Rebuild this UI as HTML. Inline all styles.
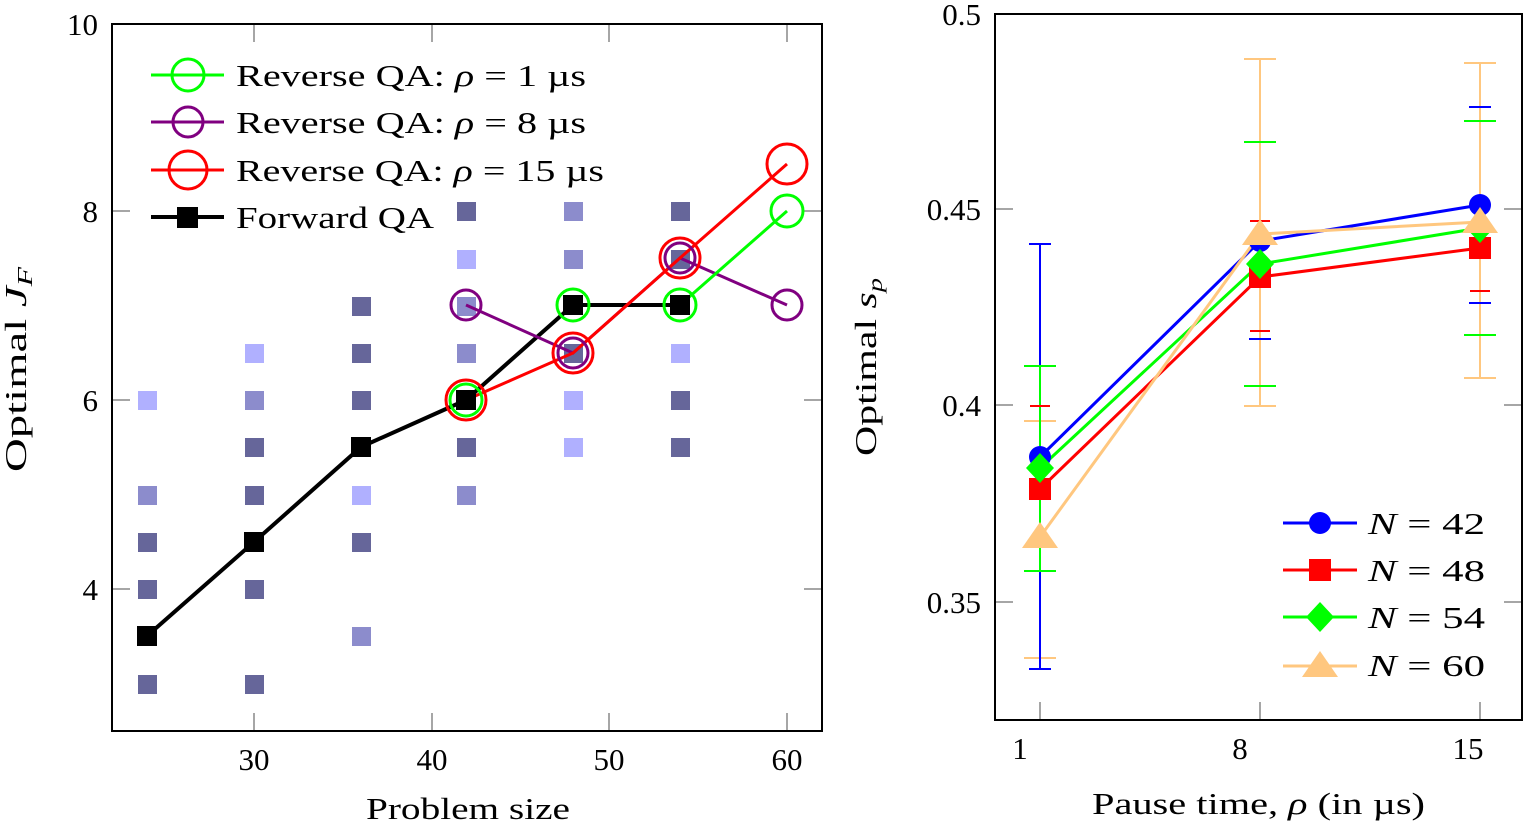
<!DOCTYPE html>
<html><head><meta charset="utf-8"><style>
html,body{margin:0;padding:0;background:#fff;}
svg{display:block;}
text{font-family:"Liberation Serif",serif;font-size:31px;fill:#000;}
.it{font-style:italic;}
</style></head><body>
<svg width="1525" height="823" viewBox="0 0 1525 823" xmlns="http://www.w3.org/2000/svg">
<g id="sq">
<rect x="138" y="391" width="19" height="19" fill="#b0b0ff"/>
<rect x="138" y="486" width="19" height="19" fill="#8c8ccc"/>
<rect x="138" y="533" width="19" height="19" fill="#66669a"/>
<rect x="138" y="580" width="19" height="19" fill="#66669a"/>
<rect x="138" y="675" width="19" height="19" fill="#66669a"/>
<rect x="245" y="344" width="19" height="19" fill="#b0b0ff"/>
<rect x="245" y="391" width="19" height="19" fill="#8c8ccc"/>
<rect x="245" y="438" width="19" height="19" fill="#66669a"/>
<rect x="245" y="486" width="19" height="19" fill="#66669a"/>
<rect x="245" y="580" width="19" height="19" fill="#66669a"/>
<rect x="245" y="675" width="19" height="19" fill="#66669a"/>
<rect x="352" y="297" width="19" height="19" fill="#66669a"/>
<rect x="352" y="344" width="19" height="19" fill="#66669a"/>
<rect x="352" y="391" width="19" height="19" fill="#66669a"/>
<rect x="352" y="486" width="19" height="19" fill="#b0b0ff"/>
<rect x="352" y="533" width="19" height="19" fill="#66669a"/>
<rect x="352" y="627" width="19" height="19" fill="#8c8ccc"/>
<rect x="457" y="202" width="19" height="19" fill="#66669a"/>
<rect x="457" y="250" width="19" height="19" fill="#b0b0ff"/>
<rect x="457" y="297" width="19" height="19" fill="#8c8ccc"/>
<rect x="457" y="344" width="19" height="19" fill="#8c8ccc"/>
<rect x="457" y="438" width="19" height="19" fill="#66669a"/>
<rect x="457" y="486" width="19" height="19" fill="#8c8ccc"/>
<rect x="564" y="202" width="19" height="19" fill="#8c8ccc"/>
<rect x="564" y="250" width="19" height="19" fill="#8c8ccc"/>
<rect x="564" y="344" width="19" height="19" fill="#66669a"/>
<rect x="564" y="391" width="19" height="19" fill="#b0b0ff"/>
<rect x="564" y="438" width="19" height="19" fill="#b0b0ff"/>
<rect x="671" y="202" width="19" height="19" fill="#66669a"/>
<rect x="671" y="250" width="19" height="19" fill="#66669a"/>
<rect x="671" y="344" width="19" height="19" fill="#b0b0ff"/>
<rect x="671" y="391" width="19" height="19" fill="#66669a"/>
<rect x="671" y="438" width="19" height="19" fill="#66669a"/>
</g>
<g stroke="#888" stroke-width="1.5">
<line x1="254" y1="24" x2="254" y2="42"/><line x1="432" y1="24" x2="432" y2="42"/><line x1="609" y1="24" x2="609" y2="42"/><line x1="787" y1="24" x2="787" y2="42"/>
<line x1="254" y1="731" x2="254" y2="713"/><line x1="432" y1="731" x2="432" y2="713"/><line x1="609" y1="731" x2="609" y2="713"/><line x1="787" y1="731" x2="787" y2="713"/>
<line x1="112" y1="211" x2="130" y2="211"/><line x1="112" y1="400" x2="130" y2="400"/><line x1="112" y1="589" x2="130" y2="589"/>
<line x1="822" y1="211" x2="804" y2="211"/><line x1="822" y1="400" x2="804" y2="400"/><line x1="822" y1="589" x2="804" y2="589"/>
</g>
<rect x="112" y="24" width="710" height="707" fill="none" stroke="#000" stroke-width="2"/>
<polyline points="147,636 254,542 361,447 466,400 573,305 680,305" fill="none" stroke="#000" stroke-width="4"/>
<polyline points="466,305 573,353 680,258 787,305" fill="none" stroke="#800080" stroke-width="3"/>
<polyline points="466,400 573,353 680,258 787,164" fill="none" stroke="#ff0000" stroke-width="3"/>
<polyline points="680,305 787,211" fill="none" stroke="#00ff00" stroke-width="3"/>
<g fill="none" stroke-width="3">
<circle cx="466" cy="400" r="20" stroke="#ff0000"/>
<circle cx="573" cy="353" r="20" stroke="#ff0000"/>
<circle cx="680" cy="258" r="20" stroke="#ff0000"/>
<circle cx="787" cy="164" r="20" stroke="#ff0000"/>
<circle cx="466" cy="305" r="15" stroke="#800080"/>
<circle cx="573" cy="353" r="15" stroke="#800080"/>
<circle cx="680" cy="258" r="15" stroke="#800080"/>
<circle cx="787" cy="305" r="15" stroke="#800080"/>
<circle cx="466" cy="400" r="16" stroke="#00ff00"/>
<circle cx="573" cy="305" r="16" stroke="#00ff00"/>
<circle cx="680" cy="305" r="16" stroke="#00ff00"/>
<circle cx="787" cy="211" r="16" stroke="#00ff00"/>
</g>
<g fill="#000">
<rect x="137" y="626" width="20" height="20"/><rect x="244" y="532" width="20" height="20"/><rect x="351" y="437" width="20" height="20"/>
<rect x="456" y="390" width="20" height="20"/><rect x="563" y="295" width="20" height="20"/><rect x="670" y="295" width="20" height="20"/>
</g>
<line x1="151" y1="75" x2="224" y2="75" stroke="#00ff00" stroke-width="3"/><circle cx="188" cy="75" r="16" fill="none" stroke="#00ff00" stroke-width="3"/>
<line x1="151" y1="122" x2="224" y2="122" stroke="#800080" stroke-width="3"/><circle cx="188" cy="122" r="15" fill="none" stroke="#800080" stroke-width="3"/>
<line x1="151" y1="170" x2="224" y2="170" stroke="#ff0000" stroke-width="3"/><circle cx="188" cy="170" r="19" fill="none" stroke="#ff0000" stroke-width="3"/>
<line x1="151" y1="217" x2="224" y2="217" stroke="#000" stroke-width="4"/><rect x="177" y="207" width="21" height="21" fill="#000"/>
<text x="236" y="86" textLength="350" lengthAdjust="spacingAndGlyphs">Reverse QA: <tspan class="it">ρ</tspan>  =  1 µs</text>
<text x="236" y="133" textLength="350" lengthAdjust="spacingAndGlyphs">Reverse QA: <tspan class="it">ρ</tspan>  =  8 µs</text>
<text x="236" y="181" textLength="368" lengthAdjust="spacingAndGlyphs">Reverse QA: <tspan class="it">ρ</tspan>  =  15 µs</text>
<text x="236" y="228" textLength="198" lengthAdjust="spacingAndGlyphs">Forward QA</text>
<text x="254" y="770" text-anchor="middle">30</text><text x="432" y="770" text-anchor="middle">40</text><text x="609" y="770" text-anchor="middle">50</text><text x="787" y="770" text-anchor="middle">60</text>
<text x="98" y="35" text-anchor="end">10</text><text x="98" y="222" text-anchor="end">8</text><text x="98" y="411" text-anchor="end">6</text><text x="98" y="600" text-anchor="end">4</text>
<text x="366" y="819" textLength="204" lengthAdjust="spacingAndGlyphs">Problem size</text>
<text transform="translate(26,472) rotate(-90)" textLength="205" lengthAdjust="spacingAndGlyphs">Optimal <tspan class="it">J</tspan><tspan class="it" font-size="21" dy="6">F</tspan></text>

<g stroke="#888" stroke-width="1.5">
<line x1="1040" y1="720" x2="1040" y2="702"/><line x1="1260" y1="720" x2="1260" y2="702"/><line x1="1480" y1="720" x2="1480" y2="702"/>
<line x1="995" y1="209" x2="1013" y2="209"/><line x1="995" y1="405" x2="1013" y2="405"/><line x1="995" y1="602" x2="1013" y2="602"/>
<line x1="1522" y1="209" x2="1504" y2="209"/><line x1="1522" y1="405" x2="1504" y2="405"/><line x1="1522" y1="602" x2="1504" y2="602"/>
</g>
<rect x="995" y="14" width="527" height="706" fill="none" stroke="#000" stroke-width="2"/>
<g stroke-width="2" fill="none">
<g stroke="#ffc77f"><line x1="1040" y1="421" x2="1040" y2="658"/><line x1="1024" y1="421" x2="1056" y2="421"/><line x1="1024" y1="658" x2="1056" y2="658"/>
<line x1="1260" y1="59" x2="1260" y2="406"/><line x1="1244" y1="59" x2="1276" y2="59"/><line x1="1244" y1="406" x2="1276" y2="406"/>
<line x1="1480" y1="63" x2="1480" y2="378"/><line x1="1464" y1="63" x2="1496" y2="63"/><line x1="1464" y1="378" x2="1496" y2="378"/></g>
<g stroke="#0000ff"><line x1="1040" y1="244" x2="1040" y2="669"/><line x1="1029" y1="244" x2="1051" y2="244"/><line x1="1029" y1="669" x2="1051" y2="669"/>
<line x1="1249" y1="339" x2="1271" y2="339"/><line x1="1469" y1="107" x2="1491" y2="107"/><line x1="1469" y1="303" x2="1491" y2="303"/></g>
<g stroke="#00ff00"><line x1="1040" y1="366" x2="1040" y2="571"/><line x1="1024" y1="366" x2="1056" y2="366"/><line x1="1024" y1="571" x2="1056" y2="571"/>
<line x1="1244" y1="142" x2="1276" y2="142"/><line x1="1244" y1="386" x2="1276" y2="386"/><line x1="1464" y1="121" x2="1496" y2="121"/><line x1="1464" y1="335" x2="1496" y2="335"/></g>
<g stroke="#ff0000"><line x1="1030" y1="406" x2="1050" y2="406"/><line x1="1250" y1="221" x2="1270" y2="221"/><line x1="1250" y1="331" x2="1270" y2="331"/><line x1="1470" y1="291" x2="1490" y2="291"/></g>
</g>
<g fill="none" stroke-width="3">
<polyline points="1040,457 1260,241 1480,205" stroke="#0000ff"/>
<polyline points="1040,489 1260,277 1480,248" stroke="#ff0000"/>
<polyline points="1040,468 1260,264 1480,228" stroke="#00ff00"/>
<polyline points="1040,537 1260,234 1480,222" stroke="#ffc77f"/>
</g>
<g>
<circle cx="1040" cy="457" r="11" fill="#0000ff"/><circle cx="1260" cy="241" r="11" fill="#0000ff"/><circle cx="1480" cy="205" r="11" fill="#0000ff"/>
<rect x="1029" y="478" width="22" height="22" fill="#ff0000"/><rect x="1249" y="266" width="22" height="22" fill="#ff0000"/><rect x="1469" y="237" width="22" height="22" fill="#ff0000"/>
<polygon points="1040,453 1054,468 1040,483 1026,468" fill="#00ff00"/><polygon points="1260,249 1274,264 1260,279 1246,264" fill="#00ff00"/><polygon points="1480,213 1494,228 1480,243 1466,228" fill="#00ff00"/>
<polygon points="1040,522 1058,548 1022,548" fill="#ffc77f"/><polygon points="1260,219 1278,245 1242,245" fill="#ffc77f"/><polygon points="1480,207 1498,233 1462,233" fill="#ffc77f"/>
</g>
<line x1="1283" y1="523" x2="1357" y2="523" stroke="#0000ff" stroke-width="3"/><circle cx="1320" cy="523" r="11" fill="#0000ff"/>
<line x1="1283" y1="570" x2="1357" y2="570" stroke="#ff0000" stroke-width="3"/><rect x="1309" y="559" width="22" height="22" fill="#ff0000"/>
<line x1="1283" y1="617" x2="1357" y2="617" stroke="#00ff00" stroke-width="3"/><polygon points="1320,602 1334,617 1320,632 1306,617" fill="#00ff00"/>
<line x1="1283" y1="666" x2="1357" y2="666" stroke="#ffc77f" stroke-width="3"/><polygon points="1320,651 1338,677 1302,677" fill="#ffc77f"/>
<text x="1368" y="534" textLength="117" lengthAdjust="spacingAndGlyphs"><tspan class="it">N</tspan>  =  42</text>
<text x="1368" y="581" textLength="117" lengthAdjust="spacingAndGlyphs"><tspan class="it">N</tspan>  =  48</text>
<text x="1368" y="628" textLength="117" lengthAdjust="spacingAndGlyphs"><tspan class="it">N</tspan>  =  54</text>
<text x="1368" y="676" textLength="117" lengthAdjust="spacingAndGlyphs"><tspan class="it">N</tspan>  =  60</text>
<text x="981" y="25" text-anchor="end">0.5</text><text x="981" y="220" text-anchor="end">0.45</text><text x="981" y="416" text-anchor="end">0.4</text><text x="981" y="613" text-anchor="end">0.35</text>
<text x="1020" y="759" text-anchor="middle">1</text><text x="1240" y="759" text-anchor="middle">8</text><text x="1468" y="759" text-anchor="middle">15</text>
<text x="1092" y="814" textLength="333" lengthAdjust="spacingAndGlyphs">Pause time, <tspan class="it">ρ</tspan> (in µs)</text>
<text transform="translate(876,456) rotate(-90)" textLength="178" lengthAdjust="spacingAndGlyphs">Optimal <tspan class="it">s</tspan><tspan class="it" font-size="21" dy="6">p</tspan></text>
</svg>
</body></html>
